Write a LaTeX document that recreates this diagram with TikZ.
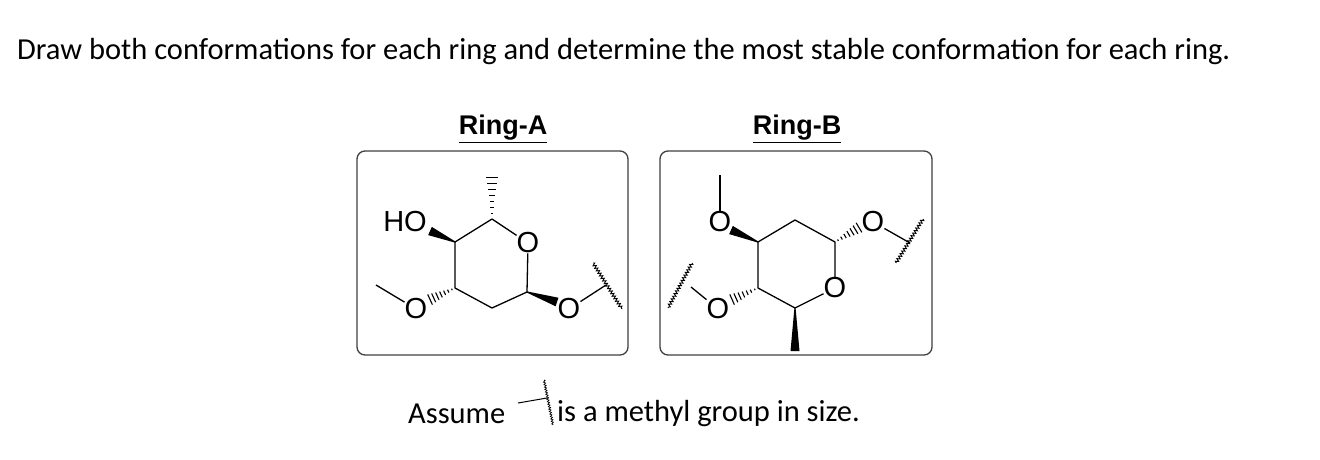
\documentclass[tikz,border=0pt]{standalone}
\usepackage{fontspec}
\setmainfont{Carlito}
\newfontfamily\arial{Liberation Sans}
\usetikzlibrary{calc,decorations.pathmorphing}
\tikzset{
  atom/.style={font=\arial\fontsize{29}{29}\selectfont, inner sep=0pt},
  bond/.style={line width=1.3pt},
  wavy/.style={line width=0.9pt, decorate, decoration={snake, segment length=3pt, amplitude=1.5pt}},
  panel/.style={draw=black!75, line width=1.3pt, rounded corners=8pt},
  ringlbl/.style={font=\arial\fontsize{27}{27}\selectfont\bfseries, inner sep=0pt},
  prose/.style={anchor=west, font=\fontsize{30.5}{31}\selectfont, inner sep=0pt}
}
\newcommand{\hashb}[2]{%
  \foreach \t/\w in {0.12/0.8,0.26/1.6,0.40/2.4,0.54/3.2,0.68/4.0,0.82/4.8,0.96/5.6}{%
    \draw[line width=1.1pt] ($($(#1)!\t!(#2)$)!\w pt!90:(#2)$) -- ($($(#1)!\t!(#2)$)!\w pt!-90:(#2)$);}}
\newcommand{\wedgeb}[2]{%
  \fill ($(#1)!0.6pt!90:(#2)$) -- ($(#2)!4.5pt!-90:(#1)$) -- ($(#2)!4.5pt!90:(#1)$) -- ($(#1)!0.6pt!-90:(#2)$) -- cycle;}
\begin{document}
\begin{tikzpicture}[x=1pt,y=-1pt]
\useasboundingbox (0,0) rectangle (1320,460);
\fill[white] (0,0) rectangle (1320,460);
\node[prose] (title) at (17,52) {Draw both conformations for each ring and determine the most stable conformation for each ring.};
\node[ringlbl] (la) at (503,129) {\underline{Ring-A}};
\node[ringlbl] (lb) at (797,129) {\underline{Ring-B}};
\draw[panel] (357,151) rectangle (628,355);
\draw[panel] (660,151) rectangle (932,355);
% Ring A
\coordinate (a1) at (492,219);
\node[atom] (aO) at (528,243) {O};
\coordinate (a2) at (527,292);
\coordinate (a3) at (492,308);
\coordinate (a4) at (455,288);
\coordinate (a5) at (455,242);
\draw[bond] (a1) -- (aO) -- (a2) -- (a3) -- (a4) -- (a5) -- (a1);
\node[atom] (aHO) at (405,222) {HO};
\coordinate (aHOe) at (430,231);
\wedgeb{a5}{aHOe}
\coordinate (ame) at (492,176);
\hashb{a1}{ame}
\node[atom] (aO2) at (416,309) {O};
\coordinate (aO2e) at (429,300);
\hashb{a4}{aO2e}
\coordinate (ame2) at (376,285);
\draw[bond] (aO2) -- (ame2);
\node[atom] (aO3) at (569,309) {O};
\coordinate (aO3e) at (557,302);
\wedgeb{a2}{aO3e}
\coordinate (aw) at (606,285);
\draw[bond] (aO3) -- (aw);
\coordinate (aw1) at (593,263); \coordinate (aw2) at (622,309);
\draw[wavy] (aw1) -- (aw2);
% Ring B
\coordinate (bme) at (720,175);
\node[atom] (bO1) at (720,222) {O};
\draw[bond] (bme) -- (bO1);
\coordinate (b3) at (758,242);
\coordinate (b2) at (795,220);
\coordinate (b1) at (835,242);
\node[atom] (bO) at (835,288) {O};
\coordinate (b5) at (795,308);
\coordinate (b4) at (758,288);
\draw[bond] (b3) -- (b2) -- (b1) -- (bO) -- (b5) -- (b4) -- (b3);
\coordinate (bO1e) at (731,230);
\wedgeb{b3}{bO1e}
\node[atom] (bO2) at (873,222) {O};
\coordinate (bO2e) at (860,227);
\hashb{b1}{bO2e}
\coordinate (bw) at (910,243);
\draw[bond] (bO2) -- (bw);
\coordinate (bw1) at (923,219); \coordinate (bw2) at (896,263);
\draw[wavy] (bw1) -- (bw2);
\coordinate (bme2) at (795,351);
\wedgeb{b5}{bme2}
\node[atom] (bO3) at (718,309) {O};
\coordinate (bO3e) at (731,300);
\hashb{b4}{bO3e}
\coordinate (bw3) at (691,287);
\draw[bond] (bO3) -- (bw3);
\coordinate (bw4) at (692,263); \coordinate (bw5) at (668,308);
\draw[wavy] (bw4) -- (bw5);
% footnote
\node[prose] (assume) at (408,414) {Assume};
\coordinate (s1) at (518,403); \coordinate (s2) at (547,398);
\draw[line width=1pt] (s1) -- (s2);
\coordinate (s3) at (544,380); \coordinate (s4) at (553,425);
\draw[wavy, line width=0.7pt, decoration={snake, segment length=2.5pt, amplitude=1pt}] (s3) -- (s4);
\node[prose] (rest) at (557,414) {is a methyl group in size.};
\end{tikzpicture}
\end{document}
